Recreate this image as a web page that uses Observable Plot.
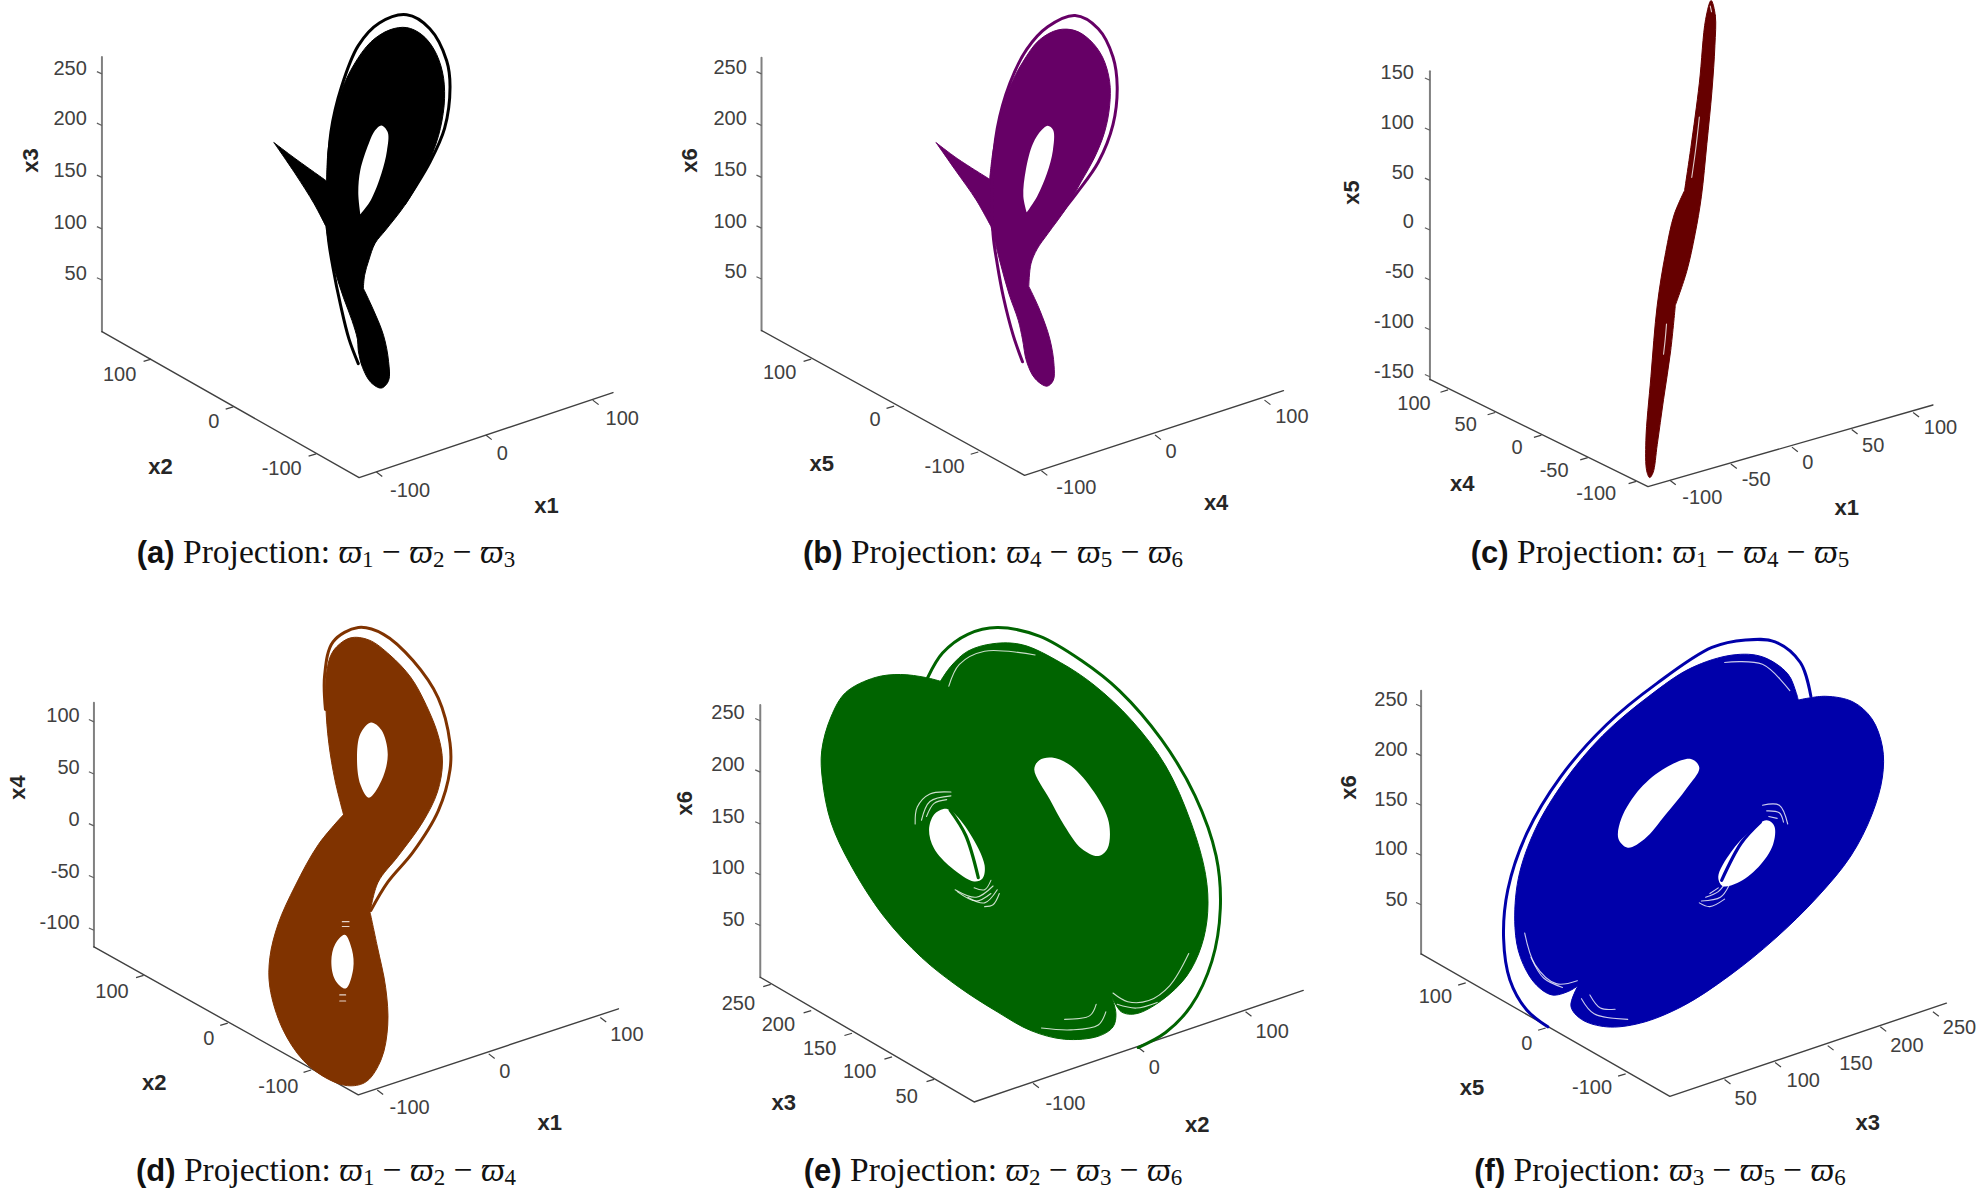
<!DOCTYPE html>
<html><head><meta charset="utf-8">
<script src="https://cdn.jsdelivr.net/npm/d3@7"></script>
<script src="https://cdn.jsdelivr.net/npm/@observablehq/plot@0.6"></script>
<style>
html,body{margin:0;padding:0;background:#fff}
#page{position:relative;width:1980px;height:1189px;overflow:hidden;background:#fff}
.panel{position:absolute}
.panel svg{display:block;background:transparent}
.cap{position:absolute;transform:translate(-50%,-50%);white-space:nowrap;font:33.5px/36px "Liberation Serif",serif;color:#111}
.cap b{font:bold 31px "Liberation Sans",sans-serif}
.cap sub{font-size:23px;line-height:0;vertical-align:-4px}
</style></head><body><div id="page"></div>
<script>
// Traced outlines, in trace units of each panel (1568 units across and down); a repeated point is a sharp corner
const aFill=[[650,378],[650,378],[700,420],[775,480],[775,480],[778,400],[790,320],[810,240],[840,170],[880,110],[925,78],[965,72],[1000,90],[1030,130],[1050,190],[1055,260],[1045,340],[1025,410],[1000,470],[960,545],[915,610],[890,645],[875,690],[865,730],[862,765],[862,765],[885,820],[910,890],[922,960],[922,1010],[905,1030],[880,1015],[860,975],[850,930],[848,900],[835,850],[815,790],[795,720],[782,660],[773,600],[773,600],[745,540],[700,460]];
const aHoles=[[[905,332],[920,350],[918,400],[905,460],[880,530],[855,568],[855,568],[850,510],[855,450],[875,380],[890,345]]];
const aOrbit=[[850,965],[828,900],[808,810],[790,710],[778,620],[778,480],[785,350],[810,230],[850,120],[900,60],[965,38],[1020,75],[1060,160],[1068,230],[1055,340],[1020,430],[960,540]];
const bFill=[[655,378],[655,378],[705,420],[782,475],[782,475],[790,400],[805,320],[830,230],[860,165],[900,105],[945,78],[985,80],[1020,105],[1050,150],[1067,215],[1067,280],[1055,350],[1030,420],[1000,480],[965,550],[920,620],[895,660],[880,700],[875,760],[875,760],[900,820],[925,900],[935,970],[933,1010],[918,1025],[890,1005],[870,960],[860,900],[850,850],[828,780],[808,700],[790,620],[785,600],[785,600],[750,530],[700,450]];
const bHoles=[[[920,333],[933,345],[932,400],[918,460],[895,520],[870,563],[870,563],[862,520],[868,450],[885,380],[905,345]]];
const bOrbit=[[860,960],[838,890],[815,790],[800,700],[790,620],[788,480],[800,340],[830,220],[870,130],[920,70],[985,40],[1040,75],[1075,150],[1085,230],[1075,330],[1040,430],[990,510],[955,560]];
const cFill=[[928,0],[938,40],[937,120],[930,240],[918,380],[905,520],[890,620],[870,720],[843,810],[843,810],[832,930],[815,1060],[800,1180],[790,1255],[782,1268],[775,1250],[773,1170],[785,1000],[800,810],[820,670],[840,570],[865,505],[865,505],[880,390],[900,220],[915,50]];
const cSlits=[[[900,310],[892,390],[882,470]],[[822,860],[819,900],[815,940]],[[926,15],[929,30]]];
const dFill=[[815,570],[815,570],[795,480],[780,380],[773,280],[775,190],[790,135],[830,100],[875,105],[925,145],[975,205],[1012,280],[1040,360],[1050,430],[1038,510],[1003,590],[945,680],[897,750],[878,830],[878,830],[895,920],[915,1030],[920,1130],[905,1220],[870,1280],[830,1292],[780,1275],[720,1225],[670,1140],[640,1030],[640,950],[660,860],[700,760],[755,650]];
const dHoles=[[[880,325],[905,345],[920,410],[905,480],[875,525],[855,490],[847,420],[855,355]],[[818,890],[835,930],[838,980],[820,1033],[795,1010],[786,960],[795,915]]];
const dOrbit=[[772,290],[770,200],[790,110],[850,72],[910,90],[980,160],[1040,260],[1068,380],[1068,450],[1040,560],[980,670],[920,750],[880,825]];
const dSlits=[[[812,855],[828,855]],[[812,868],[828,868]],[[806,1050],[820,1050]],[[806,1066],[820,1066]]];
const eFill=[[630,205],[665,215],[665,215],[690,175],[730,135],[790,115],[860,118],[950,165],[1030,225],[1120,320],[1200,440],[1260,590],[1295,730],[1300,830],[1285,920],[1250,1000],[1190,1065],[1130,1100],[1095,1095],[1070,1048],[1070,1048],[1082,1100],[1075,1135],[1040,1160],[960,1168],[880,1145],[800,1095],[710,1030],[620,950],[530,840],[450,700],[405,590],[385,480],[383,400],[405,310],[440,245],[510,205],[570,197]];
const eHoles=[[[930,418],[975,440],[1030,510],[1065,590],[1062,660],[1040,680],[1000,660],[960,600],[925,530],[888,450],[900,425]],[[672,555],[690,560],[735,620],[770,705],[765,740],[745,748],[690,710],[650,660],[638,610],[650,570]]];
const eOrbit=[[1135,1190],[1200,1150],[1260,1080],[1310,960],[1330,820],[1320,680],[1270,520],[1190,370],[1090,240],[1000,160],[900,95],[800,72],[730,90],[670,140],[635,205]];
const eStripes=[[[688,558],[725,625],[755,738]]];
const eSlits=[[[1075,1045],[1110,1068],[1160,1065],[1210,1025],[1255,940]],[[1085,1075],[1130,1085],[1180,1070]],[[1058,1095],[1040,1130],[975,1143],[905,1138]],[[1035,1075],[1020,1105],[960,1115]],[[605,595],[610,550],[640,515],[690,510]],[[620,585],[640,535],[690,520]],[[632,575],[650,540],[680,530]],[[700,770],[750,790],[790,760]],[[705,775],[750,800],[785,780]],[[730,790],[770,805],[800,770]],[[745,765],[770,770],[785,745]],[[770,815],[790,810],[805,780]],[[685,228],[710,170],[770,135],[890,145]]];
const fFill=[[1135,265],[1135,265],[1200,255],[1265,270],[1310,315],[1335,390],[1335,470],[1310,570],[1260,680],[1180,790],[1080,900],[970,1000],[860,1080],[760,1125],[680,1135],[620,1115],[595,1080],[612,1025],[612,1025],[590,1040],[550,1050],[510,1020],[475,950],[462,870],[470,740],[510,610],[580,480],[670,360],[780,255],[880,180],[980,145],[1050,150],[1110,195],[1130,245]];
const fHoles=[[[880,422],[900,445],[870,500],[820,570],[770,635],[730,658],[708,635],[715,580],[760,500],[820,445]],[[1060,585],[1078,600],[1075,650],[1040,710],[990,752],[955,760],[945,735],[975,670],[1020,615]]];
const fOrbit=[[540,1135],[490,1090],[450,1010],[435,900],[445,770],[490,620],[570,470],[680,330],[800,220],[930,125],[1010,105],[1080,110],[1140,165],[1165,255]];
const fStripes=[[[1045,590],[1000,645],[953,745]]];
const fSlits=[[[485,885],[510,970],[560,1020],[610,1012]],[[500,950],[530,1005],[575,1030]],[[620,1060],[650,1100],[730,1115]],[[640,1050],[665,1085],[700,1088]],[[1050,545],[1090,545],[1110,595]],[[1060,560],[1090,565],[1100,590]],[[1065,575],[1085,580]],[[905,800],[950,790],[970,760]],[[915,790],[945,775],[960,755]],[[925,780],[945,765]],[[900,805],[925,815],[960,795]],[[960,165],[1050,170],[1115,240]]];

// Axis corners, ticks [x,y,label] and label anchors
const aAxes=[[241,150],[241,880],[852,1268],[1455,1042]];
const aZ=[[241,195,"250",205,180],[241,332,"200",205,315],[241,470,"150",205,453],[241,607,"100",205,590],[241,743,"50",205,725]];
const aL=[[358,953,"100",283,993],[553,1080,"0",507,1120],[750,1205,"-100",668,1245]];
const aR=[[893,1253,"-100",973,1303],[1153,1155,"0",1192,1205],[1407,1062,"100",1477,1110]];
const bAxes=[[240,152],[240,877],[865,1262],[1480,1037]];
const bZ=[[240,195,"250",205,178],[240,332,"200",205,315],[240,470,"150",205,450],[240,605,"100",205,588],[240,740,"50",205,720]];
const bL=[[358,953,"100",283,988],[555,1078,"0",510,1115],[755,1200,"-100",675,1240]];
const bR=[[905,1250,"-100",988,1295],[1175,1155,"0",1213,1200],[1435,1062,"100",1500,1105]];
const cAxes=[[260,188],[260,1007],[778,1292],[1455,1075]];
const cZ=[[260,212,"150",222,192],[260,345,"100",222,325],[260,478,"50",222,457],[260,610,"0",222,588],[260,743,"-50",222,720],[260,875,"-100",222,853],[260,1000,"-150",222,985]];
const cL=[[303,1035,"100",222,1070],[415,1095,"50",345,1128],[525,1155,"0",467,1188],[635,1215,"-50",555,1250],[750,1278,"-100",655,1310]];
const cR=[[830,1275,"-100",907,1320],[975,1232,"-50",1035,1273],[1120,1187,"0",1158,1228],[1262,1140,"50",1313,1183],[1408,1095,"100",1473,1135]];
const dAxes=[[222,272],[222,922],[850,1316],[1468,1087]];
const dZ=[[222,323,"100",188,306],[222,462,"50",188,444],[222,600,"0",188,582],[222,738,"-50",188,722],[222,878,"-100",188,858]];
const dL=[[340,998,"100",265,1040],[540,1125,"0",495,1165],[738,1250,"-100",660,1293]];
const dR=[[895,1303,"-100",972,1350],[1160,1207,"0",1198,1253],[1425,1110,"100",1488,1155]];
const eAxes=[[237,278],[237,1003],[745,1335],[1527,1038]];
const eZ=[[237,320,"250",200,298],[237,457,"200",200,437],[237,595,"150",200,575],[237,730,"100",200,712],[237,865,"50",200,850]];
const eL=[[262,1022,"250",185,1072],[358,1092,"200",280,1130],[455,1152,"150",378,1193],[550,1215,"100",473,1255],[650,1275,"50",585,1320]];
const eR=[[885,1285,"-100",962,1338],[1135,1190,"0",1173,1243],[1390,1095,"100",1453,1147]];
const fAxes=[[239,240],[239,941],[830,1320],[1487,1072]];
const fZ=[[239,282,"250",207,265],[239,413,"200",207,397],[239,545,"150",207,530],[239,678,"100",207,660],[239,810,"50",207,795]];
const fL=[[345,1018,"100",273,1055],[535,1138,"0",490,1180],[725,1260,"-100",645,1298]];
const fR=[[960,1275,"50",1010,1325],[1080,1230,"100",1147,1277],[1205,1185,"150",1272,1232],[1330,1135,"200",1393,1185],[1455,1095,"250",1518,1138]];

const colors=["#000000","#660066","#660000","#803300","#006400","#0000aa"];
const tags=["a","b","c","d","e","f"];
const capSubs=[[1,2,3],[4,5,6],[1,4,5],[1,2,4],[2,3,6],[3,5,6]];
const axisNames=[
 [["x3",72,425],["x2",380,1240],["x1",1297,1343]],
 [["x6",70,425],["x5",383,1232],["x4",1320,1335]],
 [["x5",75,510],["x4",337,1285],["x1",1250,1348]],
 [["x4",42,498],["x2",365,1285],["x1",1305,1392]],
 [["x6",58,540],["x3",293,1338],["x2",1275,1395]],
 [["x6",68,498],["x5",360,1298],["x3",1300,1390]]];
const capCentres=[[326,552],[993,552],[1660,552],[326,1170],[993,1170],[1660,1170]];
const panelOrigins=[[0,0],[660,0],[1320,0],[0,600],[660,600],[1320,600]];

const shapes=[
 {fill:aFill,holes:aHoles,orbit:aOrbit,axes:aAxes,z:aZ,l:aL,r:aR},
 {fill:bFill,holes:bHoles,orbit:bOrbit,axes:bAxes,z:bZ,l:bL,r:bR},
 {fill:cFill,holes:[],slits:cSlits,axes:cAxes,z:cZ,l:cL,r:cR,orbit:null},
 {fill:dFill,holes:dHoles,orbit:dOrbit,slits:dSlits,axes:dAxes,z:dZ,l:dL,r:dR},
 {fill:eFill,holes:eHoles,orbit:eOrbit,stripes:eStripes,slits:eSlits,axes:eAxes,z:eZ,l:eL,r:eR},
 {fill:fFill,holes:fHoles,orbit:fOrbit,stripes:fStripes,slits:fSlits,axes:fAxes,z:fZ,l:fL,r:fR}];

const px=d=>d[0], py=d=>d[1];
const page=document.getElementById("page");
shapes.forEach((s,i)=>{
  const col=colors[i];
  const links=(rows,dx,dy,st,w)=>Plot.link(rows,{x1:d=>d[0],y1:d=>d[1],x2:d=>d[0]+dx,y2:d=>d[1]+dy,stroke:st,strokeWidth:w});
  const labels=rows=>Plot.text(rows,{x:d=>d[3],y:d=>d[4],text:d=>d[2],fill:"#404040",fontSize:20,fontFamily:"Liberation Sans",textAnchor:"middle"});
  const marks=[
    Plot.line(s.axes.slice(0,2),{x:px,y:py,stroke:"#808080",strokeWidth:2}),
    Plot.line(s.axes.slice(1),{x:px,y:py,stroke:"#404040",strokeWidth:1.4}),
    links(s.z,-12,-6,"#606060",1.2),
    links(s.l,-18,6,"#404040",1.2),
    links(s.r,14,12,"#404040",1.2),
    Plot.text(s.z,{x:d=>d[3],y:d=>d[4],text:d=>d[2],fill:"#404040",fontSize:20,fontFamily:"Liberation Sans",textAnchor:"end"}),
    labels(s.l),labels(s.r),
    Plot.text(axisNames[i],{filter:(d,j)=>j===0,x:d=>d[1],y:d=>d[2],text:d=>d[0],rotate:-90,fill:"#262626",fontSize:22,fontWeight:"bold",fontFamily:"Liberation Sans"}),
    Plot.text(axisNames[i],{filter:(d,j)=>j>0,x:d=>d[1],y:d=>d[2],text:d=>d[0],fill:"#262626",fontSize:22,fontWeight:"bold",fontFamily:"Liberation Sans"}),
    Plot.line(s.fill,{x:px,y:py,fill:col,stroke:col,strokeWidth:1,curve:"catmull-rom-closed"})
  ];
  if(s.orbit) marks.push(Plot.line(s.orbit,{x:px,y:py,stroke:col,strokeWidth:3,curve:"catmull-rom"}));
  for(const h of s.holes) marks.push(Plot.line(h,{x:px,y:py,fill:"#fff",stroke:"none",curve:"catmull-rom-closed"}));
  for(const t of s.stripes||[]) marks.push(Plot.line(t,{x:px,y:py,stroke:col,strokeWidth:3.2,curve:"catmull-rom"}));
  for(const t of s.slits||[]) marks.push(Plot.line(t,{x:px,y:py,stroke:"#fff",strokeWidth:1.1,strokeOpacity:.8,curve:"catmull-rom"}));
  const h=i<3?590:589;
  const svg=Plot.plot({width:660,height:h,margin:0,
    x:{domain:[0,1568],range:[0,660],axis:null},
    y:{domain:[0,1568],range:[0,h],axis:null},
    style:{overflow:"visible",background:"transparent"},
    marks});
  const w=document.createElement("div");
  w.className="panel";
  w.style.left=panelOrigins[i][0]+"px";
  w.style.top=panelOrigins[i][1]+"px";
  w.append(svg);
  page.append(w);
  const c=document.createElement("div");
  c.className="cap";
  c.style.left=capCentres[i][0]+"px";
  c.style.top=capCentres[i][1]+"px";
  c.innerHTML=`<b>(${tags[i]})</b> Projection: `+capSubs[i].map(n=>`<i>ϖ</i><sub>${n}</sub>`).join(" − ");
  page.append(c);
});
</script></body></html>
